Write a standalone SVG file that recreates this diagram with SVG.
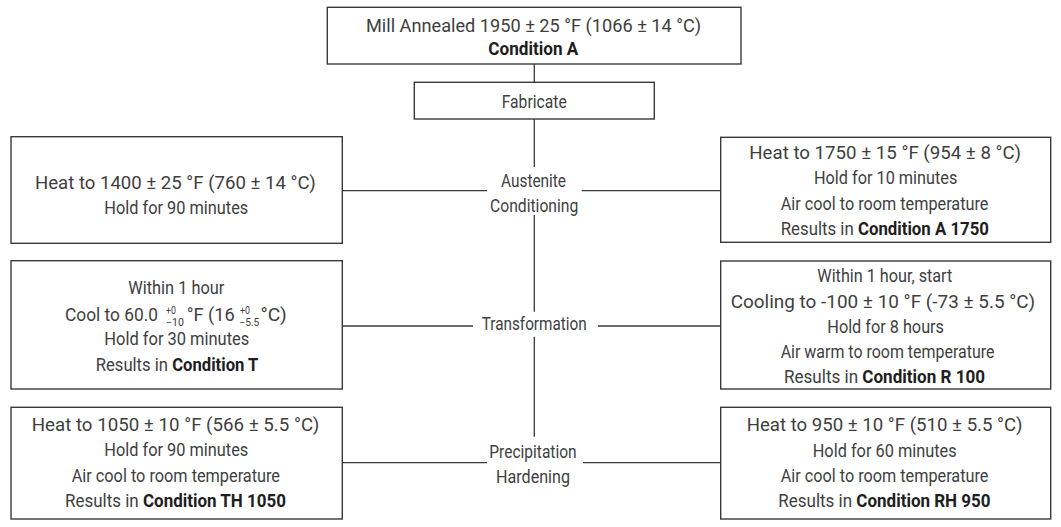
<svg xmlns="http://www.w3.org/2000/svg" width="1061" height="527" viewBox="0 0 1061 527">
<style>
.box{fill:#fff;stroke:#3a3a3a;stroke-width:1.4}
.ln{stroke:#3a3a3a;stroke-width:1.3;fill:none}
text{font-family:Roboto,"Liberation Sans",sans-serif;font-size:18.5px;fill:#3e3e3e;text-anchor:start}
.b{font-weight:bold;fill:#1e1e1e}
.s{font-size:10px}
</style>
<rect width="1061" height="527" fill="#fff"/>
<g id="connectors">
<line class="ln" x1="534.3" y1="64" x2="534.3" y2="82.3"/>
<line class="ln" x1="534.3" y1="119" x2="534.3" y2="167"/>
<line class="ln" x1="534.3" y1="215" x2="534.3" y2="311.7"/>
<line class="ln" x1="534.3" y1="336.7" x2="534.3" y2="436.7"/>
<line class="ln" x1="342.3" y1="190.7" x2="487" y2="190.7"/>
<line class="ln" x1="581.7" y1="190.7" x2="720.7" y2="190.7"/>
<line class="ln" x1="342.3" y1="326" x2="473" y2="326"/>
<line class="ln" x1="598" y1="326" x2="720.7" y2="326"/>
<line class="ln" x1="342.3" y1="462.7" x2="487" y2="462.7"/>
<line class="ln" x1="583" y1="462.7" x2="720.7" y2="462.7"/>
</g>
<g id="mill-annealed">
<rect class="box" x="327.3" y="7.3" width="413.7" height="56.7"/>
<text x="366" y="31.7" textLength="335" lengthAdjust="spacingAndGlyphs">Mill Annealed 1950 ± 25 °F (1066 ± 14 °C)</text>
<text class="b" x="488.3" y="55" textLength="90" lengthAdjust="spacingAndGlyphs">Condition A</text>
</g>
<g id="fabricate">
<rect class="box" x="414.3" y="82.3" width="240" height="36.7"/>
<text x="501.7" y="108.3" textLength="65" lengthAdjust="spacingAndGlyphs">Fabricate</text>
</g>
<g id="austenite-label">
<text x="501" y="186.7" textLength="65" lengthAdjust="spacingAndGlyphs">Austenite</text>
<text x="490" y="211.7" textLength="88.3" lengthAdjust="spacingAndGlyphs">Conditioning</text>
</g>
<g id="transformation-label">
<text x="481.7" y="330" textLength="105" lengthAdjust="spacingAndGlyphs">Transformation</text>
</g>
<g id="precipitation-label">
<text x="489.3" y="458.3" textLength="87.3" lengthAdjust="spacingAndGlyphs">Precipitation</text>
<text x="496" y="483.3" textLength="74" lengthAdjust="spacingAndGlyphs">Hardening</text>
</g>
<g id="heat-1400">
<rect class="box" x="11" y="136.7" width="331.3" height="106.6"/>
<text x="35" y="189.3" textLength="280.7" lengthAdjust="spacingAndGlyphs">Heat to 1400 ± 25 °F (760 ± 14 °C)</text>
<text x="104.3" y="214" textLength="144" lengthAdjust="spacingAndGlyphs">Hold for 90 minutes</text>
</g>
<g id="heat-1750">
<rect class="box" x="720.7" y="137.3" width="330" height="105"/>
<text x="749.3" y="159" textLength="271.7" lengthAdjust="spacingAndGlyphs">Heat to 1750 ± 15 °F (954 ± 8 °C)</text>
<text x="814" y="184.3" textLength="143.3" lengthAdjust="spacingAndGlyphs">Hold for 10 minutes</text>
<text x="780.7" y="210" textLength="207.7" lengthAdjust="spacingAndGlyphs">Air cool to room temperature</text>
<text x="780.7" y="235" textLength="208.3" lengthAdjust="spacingAndGlyphs">Results in <tspan class="b">Condition A 1750</tspan></text>
</g>
<g id="condition-t">
<rect class="box" x="11" y="260.7" width="331.3" height="128.3"/>
<text x="128.3" y="294" textLength="96" lengthAdjust="spacingAndGlyphs">Within 1 hour</text>
<text x="65" y="320.7" textLength="93" lengthAdjust="spacingAndGlyphs">Cool to 60.0</text>
<text class="s" x="166" y="313.5" textLength="10" lengthAdjust="spacingAndGlyphs">+0</text>
<text class="s" x="166" y="325.5" textLength="18" lengthAdjust="spacingAndGlyphs">−10</text>
<text x="186.7" y="320.7" textLength="48" lengthAdjust="spacingAndGlyphs">°F (16</text>
<text class="s" x="240" y="313.5" textLength="10" lengthAdjust="spacingAndGlyphs">+0</text>
<text class="s" x="239.3" y="325.5" textLength="20" lengthAdjust="spacingAndGlyphs">−5.5</text>
<text x="260.5" y="320.7" textLength="26.2" lengthAdjust="spacingAndGlyphs">°C)</text>
<text x="104.3" y="345.3" textLength="145" lengthAdjust="spacingAndGlyphs">Hold for 30 minutes</text>
<text x="95.7" y="371.3" textLength="162.7" lengthAdjust="spacingAndGlyphs">Results in <tspan class="b">Condition T</tspan></text>
</g>
<g id="condition-r100">
<rect class="box" x="720.7" y="261" width="330" height="128"/>
<text x="817.3" y="281.7" textLength="135" lengthAdjust="spacingAndGlyphs">Within 1 hour, start</text>
<text x="730.7" y="307.7" textLength="304.3" lengthAdjust="spacingAndGlyphs">Cooling to -100 ± 10 °F (-73 ± 5.5 °C)</text>
<text x="827.3" y="332.7" textLength="116.7" lengthAdjust="spacingAndGlyphs">Hold for 8 hours</text>
<text x="780.7" y="357.7" textLength="213.7" lengthAdjust="spacingAndGlyphs">Air warm to room temperature</text>
<text x="784" y="383" textLength="201" lengthAdjust="spacingAndGlyphs">Results in <tspan class="b">Condition R 100</tspan></text>
</g>
<g id="condition-th1050">
<rect class="box" x="11" y="407.3" width="331.3" height="111.7"/>
<text x="31.7" y="430.5" textLength="287.7" lengthAdjust="spacingAndGlyphs">Heat to 1050 ± 10 °F (566 ± 5.5 °C)</text>
<text x="104.3" y="456" textLength="144" lengthAdjust="spacingAndGlyphs">Hold for 90 minutes</text>
<text x="71.7" y="481.5" textLength="208.3" lengthAdjust="spacingAndGlyphs">Air cool to room temperature</text>
<text x="65" y="506.7" textLength="221" lengthAdjust="spacingAndGlyphs">Results in <tspan class="b">Condition TH 1050</tspan></text>
</g>
<g id="condition-rh950">
<rect class="box" x="720.7" y="407.3" width="330" height="111.7"/>
<text x="746.7" y="431" textLength="275.7" lengthAdjust="spacingAndGlyphs">Heat to 950 ± 10 °F (510 ± 5.5 °C)</text>
<text x="812.7" y="456.5" textLength="144" lengthAdjust="spacingAndGlyphs">Hold for 60 minutes</text>
<text x="780.7" y="482" textLength="207.7" lengthAdjust="spacingAndGlyphs">Air cool to room temperature</text>
<text x="778.3" y="506.7" textLength="212.3" lengthAdjust="spacingAndGlyphs">Results in <tspan class="b">Condition RH 950</tspan></text>
</g>
</svg>
